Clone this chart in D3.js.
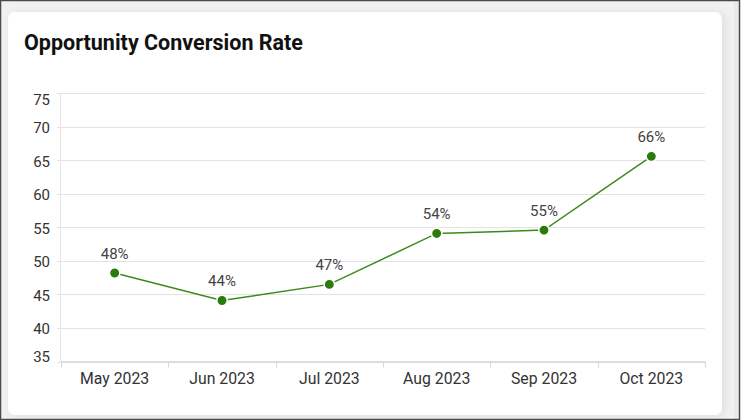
<!DOCTYPE html>
<html>
<head>
<meta charset="utf-8">
<script src="https://cdn.jsdelivr.net/npm/d3@7"></script>
<style>
  html, body { margin: 0; padding: 0; background: #fff; }
  svg { display: block; font-family: Roboto, "Noto Sans", sans-serif; }
</style>
</head>
<body>
<div id="chart"></div>
<script>
// data
const months = ["May 2023", "Jun 2023", "Jul 2023", "Aug 2023", "Sep 2023", "Oct 2023"];
const rates = [48.2, 44.1, 46.5, 54.1, 54.6, 65.6];
const yTicks = [35, 40, 45, 50, 55, 60, 65, 70, 75];

const width = 741, height = 420;
const plot = { left: 61, right: 705, top: 93.3, bottom: 361.5 };

const svg = d3.select("#chart").append("svg")
    .attr("width", width)
    .attr("height", height);

// page frame + card
const defs = svg.append("defs");
const shadow = defs.append("filter").attr("id", "shadow")
    .attr("x", "-5%").attr("y", "-5%").attr("width", "115%").attr("height", "115%");
shadow.append("feDropShadow")
    .attr("dx", 3).attr("dy", 1).attr("stdDeviation", 4)
    .attr("flood-color", "#000").attr("flood-opacity", 0.08);

svg.append("rect")
    .attr("x", 0.5).attr("y", 0.5)
    .attr("width", width - 2).attr("height", height - 1)
    .attr("fill", "#f1f1f1")
    .attr("stroke", "#4a4a4a").attr("stroke-width", 1.5);

svg.append("rect")
    .attr("x", 734).attr("y", 2)
    .attr("width", 4).attr("height", height - 4)
    .attr("fill", "#e9e9e9");

svg.append("rect")
    .attr("x", 8).attr("y", 12)
    .attr("width", 714).attr("height", 403)
    .attr("rx", 7)
    .attr("fill", "#fff")
    .attr("filter", "url(#shadow)");

svg.append("text")
    .attr("x", 24).attr("y", 49.5)
    .attr("font-size", 21.5)
    .attr("font-weight", 700)
    .attr("fill", "#111")
    .text("Opportunity Conversion Rate");

const x = d3.scaleBand()
    .domain(months)
    .range([plot.left, plot.right])
    .padding(0);

const y = d3.scaleLinear()
    .domain([d3.min(yTicks), d3.max(yTicks)])
    .range([plot.bottom, plot.top]);

const g = svg.append("g");

// horizontal grid
g.selectAll(".grid")
    .data(yTicks)
    .enter()
    .append("line")
    .attr("x1", plot.left - 4)
    .attr("x2", plot.right)
    .attr("y1", d => Math.round(y(d)) + 0.5)
    .attr("y2", d => Math.round(y(d)) + 0.5)
    .attr("stroke", "#e3e3e3")
    .attr("stroke-width", 1);

// left axis line
g.append("line")
    .attr("x1", plot.left - 0.5).attr("x2", plot.left - 0.5)
    .attr("y1", plot.top).attr("y2", plot.bottom)
    .attr("stroke", "#e3e3e3");

// y labels (kept inside the plot span at the ends)
const yAxis = g.append("g")
    .attr("transform", `translate(${plot.left - 11},0)`)
    .call(d3.axisLeft(y).tickValues(yTicks).tickSize(0).tickPadding(0));
yAxis.select(".domain").remove();
yAxis.selectAll(".tick")
    .attr("transform", d => `translate(0,${Math.min(Math.max(y(d) + 1, plot.top + 6), plot.bottom - 5)})`);
yAxis.selectAll("text")
    .attr("font-family", "Roboto, sans-serif")
    .attr("font-size", 15)
    .attr("fill", "#333")
    .attr("dy", "0.35em");

// x axis line + boundary ticks
g.append("line")
    .attr("x1", plot.left).attr("x2", plot.right)
    .attr("y1", plot.bottom + 0.5).attr("y2", plot.bottom + 0.5)
    .attr("stroke", "#d6d6d6").attr("stroke-width", 1.5);

const bounds = months.map(m => x(m)).concat([x.range()[1]]);
g.selectAll(".xtick")
    .data(bounds)
    .enter()
    .append("line")
    .attr("x1", d => Math.round(d) + 0.5)
    .attr("x2", d => Math.round(d) + 0.5)
    .attr("y1", plot.bottom)
    .attr("y2", plot.bottom + 6)
    .attr("stroke", "#d6d6d6");

const xAxis = g.append("g")
    .attr("transform", `translate(0,${plot.bottom})`)
    .call(d3.axisBottom(x).tickSize(0).tickPadding(11));
xAxis.select(".domain").remove();
xAxis.selectAll("text")
    .attr("font-family", "Roboto, sans-serif")
    .attr("font-size", 15.8)
    .attr("fill", "#333");

// line + points
const cx = (d, i) => x(months[i]) + x.bandwidth() / 2;

g.append("path")
    .datum(rates)
    .attr("d", d3.line().x(cx).y(d => y(d)))
    .attr("fill", "none")
    .attr("stroke", "#3c8a1c")
    .attr("stroke-width", 1.5);

g.selectAll(".dot")
    .data(rates)
    .enter()
    .append("circle")
    .attr("cx", cx)
    .attr("cy", d => y(d))
    .attr("r", 5.2)
    .attr("fill", "#2b7a0b")
    .attr("stroke", "#fff")
    .attr("stroke-width", 1.5);

g.selectAll(".lbl")
    .data(rates)
    .enter()
    .append("text")
    .attr("x", cx)
    .attr("y", d => y(d) - 14)
    .attr("text-anchor", "middle")
    .attr("font-size", 15)
    .attr("fill", "#444")
    .text(d => Math.round(d) + "%");
</script>
</body>
</html>
